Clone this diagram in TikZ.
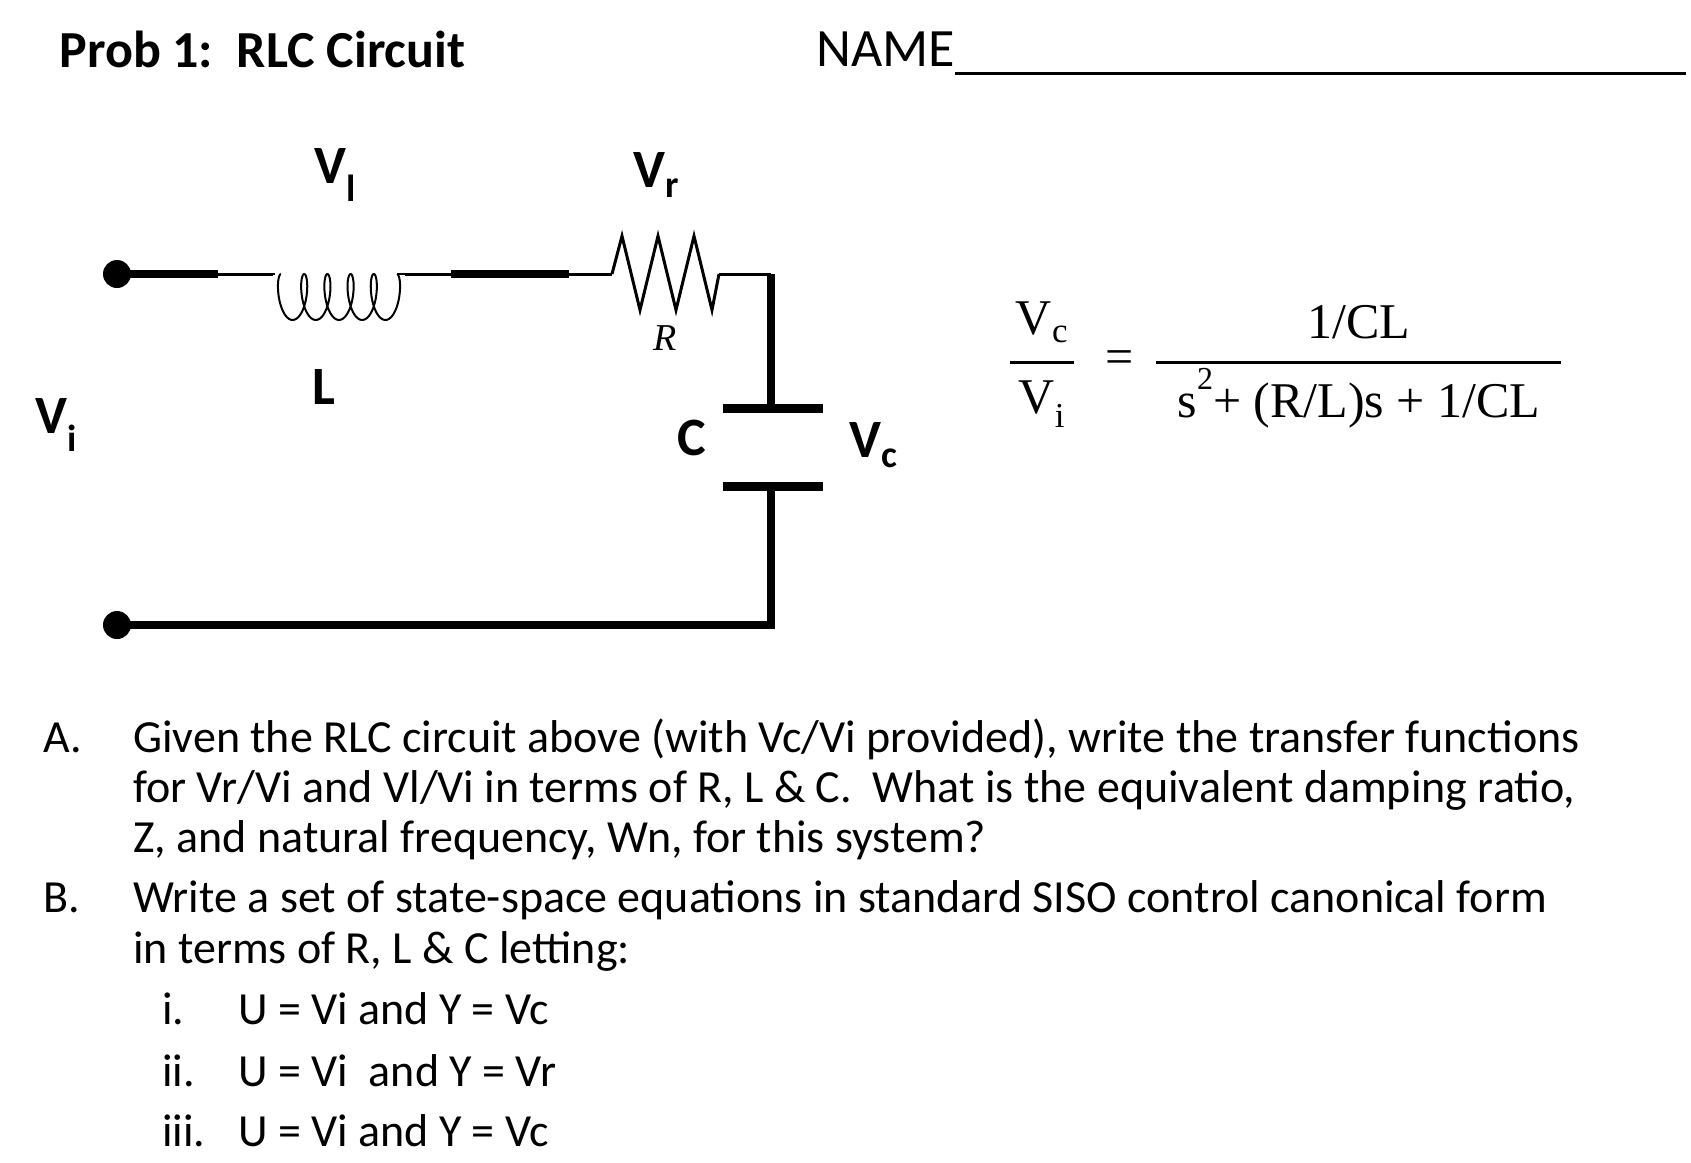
\documentclass[tikz,border=0pt]{standalone}
\usepackage{fontspec}
\setmainfont{Carlito}
\newfontfamily\eqfont{Liberation Serif}
\usetikzlibrary{decorations.pathmorphing,positioning,calc}

\begin{document}
\begin{tikzpicture}[x=1pt, y=-1pt,
    wire/.style={line width=8pt},
    thinwire/.style={line width=3pt},
    plate/.style={line width=9pt},
    lbl/.style={font=\fontsize{54}{54}\selectfont\bfseries},
    eq/.style={font=\fontsize{50}{50}\selectfont\eqfont},
    txt/.style={anchor=base west, inner sep=0pt, font=\fontsize{46}{48}\selectfont},
]
\useasboundingbox (0,0) rectangle (1691,1162);

% === Header ===
\node[anchor=west, font=\fontsize{52}{52}\selectfont\bfseries] (title) at (56,49) {Prob 1:\ \ RLC Circuit};
\node[anchor=west, font=\fontsize{54}{54}\selectfont, inner sep=0pt] (name) at (816,49) {NAME};
\draw[thinwire] (name.east |- 0,73) coordinate (u1) -- (1686,73);

% === Circuit ===
\coordinate (tin) at (117,274);
\coordinate (bin) at (117,625);
\coordinate (l1) at (273,274);
\coordinate (l2) at (405,274);
\coordinate (r1) at (612,274);
\coordinate (r2) at (719,274);
\coordinate (tr) at (771,274);
\coordinate (ct) at (771,408);
\coordinate (cb) at (771,486);
\coordinate (br) at (771,625);

\fill (tin) circle (14);
\fill (bin) circle (14);

% top branch
\draw[wire] (tin) -- (218,274);
\draw[thinwire] (218,274) -- (l1);
\draw[line width=2pt, smooth, samples=200, domain=0:10*pi]
    plot ({281+(\x/(2*pi))*23.2-8*sin(\x r)}, {274+23*(1-cos(\x r))});
\draw[line width=2pt] (l1) -- (275,274) (397,274) -- (l2);
\draw[thinwire] (l2) -- (451,274);
\draw[wire] (451,274) -- (569,274);
\draw[thinwire] (569,274) -- (r1);
\draw[thinwire, line join=miter] (r1) -- (622,236) -- (640,310) -- (658,236) -- (676,310) -- (694,236) -- (712,310) -- (r2);
\draw[thinwire] (r2) -- (tr);
\draw[wire] (tr) -- (ct);

% capacitor
\draw[plate] (723,408) -- (823,408);
\draw[plate] (723,486) -- (823,486);
\draw[wire] (cb) -- (br) -- (bin);

% labels
\node[lbl] (vl) at (335,175) {V\textsubscript{l}};
\node[lbl] (vr) at (656,175) {V\textsubscript{r}};
\node[font=\fontsize{38}{38}\selectfont\eqfont\itshape] (rl) at (665,338) {R};
\node[lbl] (ll) at (324,387) {L};
\node[lbl] (vi) at (56,425) {V\textsubscript{i}};
\node[lbl] (cl) at (692,438) {C};
\node[lbl] (vc) at (874,445) {V\textsubscript{c}};

% === Transfer function ===
\node[eq] (num1) at (1042,322) {V\textsubscript{c}};
\node[eq] (den1) at (1042,404) {V\textsubscript{i}};
\draw[thinwire] (1010,362) -- (1074,362);
\node[eq] (eqs) at (1120,362) {=};
\node[eq] (num2) at (1359,322) {1/CL};
\node[eq] (den2) at (1359,398) {s\raisebox{0.55em}{\fontsize{32}{32}\selectfont 2}+ (R/L)s + 1/CL};
\draw[thinwire] (1156,362) -- (1561,362);

% === Questions ===
\node[txt] (qa) at (43,752) {A.};
\node[txt] (a1) at (133,752) {Given the RLC circuit above (with Vc/Vi provided), write the transfer functions};
\node[txt] (a2) at (133,802) {for Vr/Vi and Vl/Vi in terms of R, L \& C.\ \ What is the equivalent damping ratio,};
\node[txt] (a3) at (133,852) {Z, and natural frequency, Wn, for this system?};
\node[txt] (qb) at (43,912) {B.};
\node[txt] (b1) at (133,912) {Write a set of state-space equations in standard SISO control canonical form};
\node[txt] (b2) at (133,963) {in terms of R, L \& C letting:};
\node[txt] (i1) at (162,1024) {i.};
\node[txt] (i2) at (238,1024) {U = Vi and Y = Vc};
\node[txt] (j1) at (162,1086) {ii.};
\node[txt] (j2) at (238,1086) {U = Vi\ \ and Y = Vr};
\node[txt] (k1) at (162,1146) {iii.};
\node[txt] (k2) at (238,1146) {U = Vi and Y = Vc};
\end{tikzpicture}
\end{document}
